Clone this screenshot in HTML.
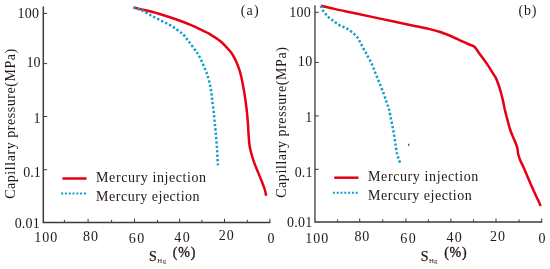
<!DOCTYPE html>
<html><head><meta charset="utf-8"><title>Capillary pressure curves</title>
<style>html,body{margin:0;padding:0;background:#fff}svg{display:block}text{font-family:"Liberation Serif","Times New Roman",serif;font-size:14px;fill:#231815}</style></head><body>
<svg width="550" height="269" viewBox="0 0 550 269">
<rect width="550" height="269" fill="#fff"/>
<path d="M43.3 6.6V222.4H270.4" fill="none" stroke="#3e3a39" stroke-width="1.5"/>
<path d="M43.3 13.4h3.8M43.3 63.6h3.8M43.3 116.5h3.8M43.3 169.7h3.8M64.4 222.4v-2.6M88.1 222.4v-3.6M111.6 222.4v-2.6M134.5 222.4v-3.6M157.5 222.4v-2.6M179.6 222.4v-3.6M201.9 222.4v-2.6M224.5 222.4v-3.6M247.3 222.4v-2.6M269.9 222.4v-3.6" fill="none" stroke="#3e3a39" stroke-width="1"/>
<path d="M314.95 5.3V222.0H542.2" fill="none" stroke="#3e3a39" stroke-width="1.3"/>
<path d="M314.95 12.3h3.8M314.95 62.4h3.8M314.95 115.9h3.8M314.95 169.3h3.8M337.6 222.0v-2.6M359.7 222.0v-3.6M382.8 222.0v-2.6M405.9 222.0v-3.6M428.5 222.0v-2.6M450.9 222.0v-3.6M473.5 222.0v-2.6M496 222.0v-3.6M519.1 222.0v-2.6M541.7 222.0v-3.6" fill="none" stroke="#3e3a39" stroke-width="1"/>
<path d="M133.6 7.5C135.6 8.0 141.3 9.3 145.4 10.3C149.5 11.3 153.8 12.3 158.0 13.5C162.2 14.7 166.5 16.1 170.7 17.5C174.9 18.9 180.2 20.8 183.4 22.0C186.6 23.2 187.5 23.6 190.0 24.7C192.5 25.8 194.7 26.7 198.2 28.4C201.7 30.1 207.1 32.6 210.9 34.8C214.7 37.0 217.9 39.0 221.1 41.7C224.3 44.4 228.1 49.0 230.0 51.2C231.9 53.4 231.7 53.1 232.8 55.0C233.9 56.9 235.6 60.1 236.7 62.7C237.8 65.3 238.8 67.9 239.6 70.5C240.4 73.1 241.0 75.6 241.6 78.2C242.2 80.8 242.6 83.3 243.1 85.9C243.6 88.5 244.1 91.1 244.5 93.7C244.9 96.3 245.2 98.4 245.6 101.4C246.0 104.4 246.5 108.0 246.9 111.6C247.3 115.2 247.6 119.3 247.9 123.2C248.2 127.1 248.3 131.2 248.6 134.8C248.8 138.4 249.0 141.6 249.4 144.5C249.8 147.4 250.2 149.3 251.0 152.3C251.8 155.3 252.9 159.1 254.1 162.4C255.3 165.7 256.7 168.9 258.0 172.1C259.3 175.3 260.8 178.8 261.9 181.7C263.0 184.6 264.1 187.2 264.8 189.5C265.5 191.8 265.9 194.7 266.1 195.7" fill="none" stroke="#e60012" stroke-width="2.5"/>
<path d="M133.4 7.4C134.8 7.9 138.9 9.0 141.6 10.2C144.2 11.4 146.5 13.1 149.3 14.6C152.1 16.1 155.0 17.5 158.2 19.1C161.4 20.7 165.3 22.5 168.4 24.2C171.5 25.9 174.1 27.6 176.5 29.3C178.9 31.0 181.1 32.5 182.9 34.2C184.7 35.9 185.9 37.8 187.4 39.7C188.9 41.6 190.3 43.5 191.8 45.5C193.3 47.5 195.2 50.2 196.3 51.8C197.4 53.4 197.7 53.3 198.6 55.0C199.5 56.7 200.9 59.5 201.9 61.8C202.9 64.0 203.9 66.4 204.8 68.5C205.7 70.6 206.4 72.2 207.1 74.3C207.8 76.4 208.5 78.8 209.1 81.1C209.7 83.4 210.2 85.7 210.6 87.9C211.0 90.2 211.3 92.3 211.6 94.6C211.9 96.8 212.0 98.6 212.3 101.4C212.7 104.2 213.3 108.3 213.7 111.6C214.1 114.9 214.3 118.1 214.6 121.3C214.9 124.5 215.3 127.7 215.6 130.9C215.9 134.1 216.1 137.2 216.4 140.6C216.7 144.0 216.9 147.1 217.2 151.2C217.4 155.3 217.8 162.9 217.9 165.2" fill="none" stroke="#0f9fcb" stroke-width="2.5" stroke-dasharray="2.3 2.1"/>
<path d="M320.8 5.7C323.2 6.3 329.6 7.8 335.3 9.1C341.0 10.4 347.6 11.7 355.0 13.3C362.4 14.9 370.6 16.6 380.0 18.6C389.4 20.6 403.0 23.5 411.1 25.2C419.2 26.9 423.8 27.7 428.8 28.9C433.8 30.1 437.1 31.0 441.0 32.3C444.9 33.6 448.2 34.9 451.9 36.5C455.5 38.1 459.8 40.3 462.9 41.7C466.0 43.1 468.6 44.1 470.5 45.0C472.4 45.9 472.9 45.3 474.6 47.0C476.3 48.7 478.4 52.3 480.5 55.1C482.6 57.9 485.0 61.0 487.0 63.9C489.0 66.8 491.1 70.4 492.5 72.7C493.9 75.0 494.6 75.6 495.7 77.7C496.8 79.8 497.9 82.9 498.8 85.5C499.7 88.1 500.4 90.6 501.1 93.2C501.8 95.8 502.4 98.3 503.0 100.9C503.6 103.5 504.1 106.3 504.6 108.7C505.2 111.1 505.8 113.4 506.3 115.5C506.9 117.6 507.3 119.3 507.9 121.5C508.5 123.7 509.0 126.0 509.8 128.5C510.6 131.0 511.7 133.9 512.7 136.3C513.7 138.7 514.8 140.9 515.6 143.0C516.4 145.1 517.1 147.0 517.5 148.8C517.9 150.6 517.6 151.8 518.1 153.7C518.6 155.6 519.3 158.0 520.2 160.2C521.1 162.4 522.3 164.6 523.3 166.8C524.3 169.0 524.8 170.1 526.2 173.5C527.7 176.9 530.1 182.8 532.0 187.1C533.9 191.4 536.3 196.4 537.8 199.6C539.2 202.8 540.2 204.9 540.7 206.0" fill="none" stroke="#e60012" stroke-width="2.5"/>
<path d="M320.8 5.7C321.1 6.5 321.9 8.8 322.7 10.2C323.5 11.6 324.8 13.0 325.9 14.3C327.0 15.6 328.0 16.8 329.1 17.8C330.2 18.8 331.5 19.5 332.7 20.4C333.9 21.2 334.9 22.1 336.1 22.9C337.3 23.7 338.5 24.6 339.7 25.3C340.9 26.0 342.1 26.2 343.3 26.8C344.5 27.4 345.8 28.0 347.0 28.7C348.2 29.4 349.3 30.2 350.5 31.1C351.7 32.0 352.9 32.8 354.0 33.8C355.1 34.8 356.4 36.1 357.3 37.3C358.2 38.5 358.9 39.9 359.6 41.2C360.3 42.5 361.0 43.8 361.7 45.1C362.4 46.4 362.9 47.6 363.6 48.9C364.3 50.2 365.1 51.5 365.8 52.7C366.5 54.0 366.8 54.4 367.8 56.4C368.9 58.4 370.8 61.7 372.1 64.7C373.5 67.7 374.6 71.1 375.9 74.3C377.2 77.5 378.5 80.8 379.8 84.0C381.1 87.2 382.6 90.6 383.7 93.7C384.8 96.8 385.7 99.7 386.6 102.4C387.5 105.1 388.4 106.9 389.1 109.7C389.8 112.5 390.4 116.1 391.0 119.3C391.6 122.5 392.4 125.8 393.0 129.0C393.6 132.2 394.2 135.6 394.7 138.7C395.2 141.8 395.5 144.8 395.9 147.4C396.3 150.0 396.7 152.5 397.2 154.5C397.7 156.5 398.3 157.9 398.8 159.3C399.3 160.7 399.9 162.2 400.1 162.8" fill="none" stroke="#0f9fcb" stroke-width="2.5" stroke-dasharray="2.3 2.1"/>
<rect x="408.3" y="143.8" width="1" height="2" fill="#231815"/>
<path d="M62.4 178.5H86.6" stroke="#e60012" stroke-width="2.5" fill="none"/>
<path d="M61.1 193.5H86.6" stroke="#0f9fcb" stroke-width="2" stroke-dasharray="2 1.8" fill="none"/>
<path d="M334.2 177.7H358.5" stroke="#e60012" stroke-width="2.5" fill="none"/>
<path d="M332.9 192.7H358.5" stroke="#0f9fcb" stroke-width="2" stroke-dasharray="2 1.8" fill="none"/>
<text x="17.40" y="18.33" letter-spacing="0.32">100</text>
<text x="26.40" y="67.35">10</text>
<text x="33.42" y="122.70" letter-spacing="0.50">1</text>
<text x="23.15" y="177.10">0.1</text>
<text x="14.70" y="227.65" letter-spacing="0.17">0.01</text>
<text x="289.25" y="17.07" letter-spacing="0.20">100</text>
<text x="297.80" y="66.17" letter-spacing="0.45">10</text>
<text x="305.18" y="121.50" letter-spacing="0.50">1</text>
<text x="294.75" y="176.85" letter-spacing="0.10">0.1</text>
<text x="287.05" y="227.30" letter-spacing="0.27">0.01</text>
<text x="34.20" y="242.10" letter-spacing="1.05">100</text>
<text x="83.05" y="240.65" letter-spacing="0.85">80</text>
<text x="128.80" y="242.85" letter-spacing="1.45">60</text>
<text x="174.35" y="242.12" letter-spacing="1.30">40</text>
<text x="218.70" y="240.23" letter-spacing="1.10">20</text>
<text x="267.58" y="242.90" letter-spacing="0.50">0</text>
<text x="305.35" y="242.60" letter-spacing="0.98">100</text>
<text x="354.55" y="240.65" letter-spacing="0.70">80</text>
<text x="400.15" y="242.75" letter-spacing="1.60">60</text>
<text x="446.40" y="241.80" letter-spacing="1.35">40</text>
<text x="490.10" y="240.60" letter-spacing="0.85">20</text>
<text x="538.53" y="242.62" letter-spacing="0.50">0</text>
<text x="149.10" y="261.00" letter-spacing="0.50" stroke="#231815" stroke-width="0.25">S</text>
<text x="157.30" y="263.10" letter-spacing="0.50" style="font-size:6.8px">Hg</text>
<text x="172.70" y="257.20" letter-spacing="0.87" stroke="#231815" stroke-width="0.35">(%)</text>
<text x="420.78" y="260.80" letter-spacing="0.50" stroke="#231815" stroke-width="0.25">S</text>
<text x="429.00" y="263.10" letter-spacing="0.20" style="font-size:6.8px">Hg</text>
<text x="444.15" y="257.35" letter-spacing="0.82" stroke="#231815" stroke-width="0.35">(%)</text>
<text transform="translate(14.75 198.85) rotate(-90)" letter-spacing="0.55">Capillary pressure(MPa)</text>
<text transform="translate(286.40 197.85) rotate(-90)" letter-spacing="0.58">Capillary pressure(MPa)</text>
<text x="240.65" y="15.20" letter-spacing="1.20">(a)</text>
<text x="518.60" y="15.20" letter-spacing="0.75">(b)</text>
<text x="96.10" y="182.23" letter-spacing="0.58">Mercury injection</text>
<text x="96.10" y="200.72" letter-spacing="0.50">Mercury ejection</text>
<text x="368.05" y="181.38" letter-spacing="0.60">Mercury injection</text>
<text x="368.05" y="199.77" letter-spacing="0.51">Mercury ejection</text>
</svg></body></html>
